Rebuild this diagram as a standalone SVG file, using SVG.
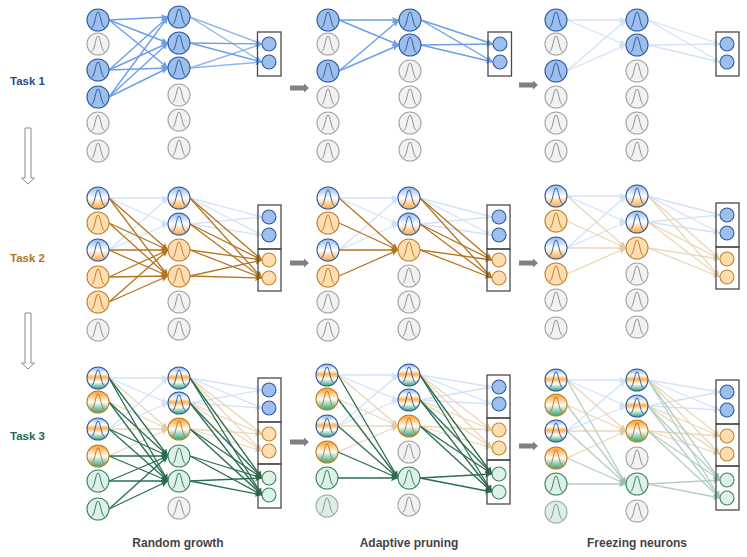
<svg xmlns="http://www.w3.org/2000/svg" xmlns:xlink="http://www.w3.org/1999/xlink" width="747" height="557" viewBox="0 0 747 557">
<style>
text{font-family:"Liberation Sans",Arial,sans-serif;font-weight:bold}
.pk{fill:none;stroke-width:.9}
.n{stroke-width:1.1}
.box{fill:none;stroke:#4a4a4a;stroke-width:1.3}
.conn path{fill:none}
.sb path{stroke:#6C9FE6;stroke-width:1.4;marker-end:url(#mb)}
.fb path{stroke:#D3E2F8;stroke-width:1.3;marker-end:url(#mfb)}
.so path{stroke:#B5741E;stroke-width:1.3;marker-end:url(#mo)}
.fo path{stroke:#EBD6B8;stroke-width:1.3;marker-end:url(#mfo)}
.sg path{stroke:#2A6E50;stroke-width:1.3;marker-end:url(#mg)}
.fg path{stroke:#B4D0C3;stroke-width:1.3;marker-end:url(#mfg)}
.big{fill:#808080;stroke:none}
.down{fill:#fff;stroke:#8a8a8a;stroke-width:1}
.oc{stroke-width:1.1}
</style>
<defs>
<marker id="mb" markerUnits="userSpaceOnUse" markerWidth="8" markerHeight="8" refX="7" refY="4" orient="auto"><path d="M0 .8L7 4L0 7.2L1.5 4z" fill="#6C9FE6"/></marker>
<marker id="mfb" markerUnits="userSpaceOnUse" markerWidth="8" markerHeight="8" refX="7" refY="4" orient="auto"><path d="M0 .8L7 4L0 7.2L1.5 4z" fill="#D3E2F8"/></marker>
<marker id="mo" markerUnits="userSpaceOnUse" markerWidth="8" markerHeight="8" refX="7" refY="4" orient="auto"><path d="M0 .8L7 4L0 7.2L1.5 4z" fill="#B5741E"/></marker>
<marker id="mfo" markerUnits="userSpaceOnUse" markerWidth="8" markerHeight="8" refX="7" refY="4" orient="auto"><path d="M0 .8L7 4L0 7.2L1.5 4z" fill="#E3C9A3"/></marker>
<marker id="mg" markerUnits="userSpaceOnUse" markerWidth="8" markerHeight="8" refX="7" refY="4" orient="auto"><path d="M0 .8L7 4L0 7.2L1.5 4z" fill="#2A6E50"/></marker>
<marker id="mfg" markerUnits="userSpaceOnUse" markerWidth="8" markerHeight="8" refX="7" refY="4" orient="auto"><path d="M0 .8L7 4L0 7.2L1.5 4z" fill="#9CC0AE"/></marker>
<linearGradient id="gbo" x1="0" y1="0" x2="0" y2="1"><stop offset=".05" stop-color="#9DBFEE"/><stop offset=".5" stop-color="#fff"/><stop offset=".95" stop-color="#FFAE4A"/></linearGradient>
<linearGradient id="gbog" x1="0" y1="0" x2="0" y2="1"><stop offset=".05" stop-color="#9DBFEE"/><stop offset=".28" stop-color="#fff"/><stop offset=".47" stop-color="#FFB352"/><stop offset=".68" stop-color="#fff"/><stop offset=".95" stop-color="#4FAE84"/></linearGradient>
<linearGradient id="gog" x1="0" y1="0" x2="0" y2="1"><stop offset=".12" stop-color="#FFAE4A"/><stop offset=".5" stop-color="#fff"/><stop offset=".92" stop-color="#4FAE84"/></linearGradient>
<path id="pk" d="M-6.500 7.500C-3 6.500-2.500 -8 0 -8C2.500 -8 3 6.500 6.500 7.500"/>
<g id="nb"><circle class="n" r="11" fill="#9DBFEE" stroke="#2E5A9E"/><use href="#pk" class="pk" stroke="#24508F"/></g>
<g id="ne"><circle class="n" r="11" fill="#F2F2F2" stroke="#A4A4A4"/><use href="#pk" class="pk" stroke="#858585"/></g>
<g id="no"><circle class="n" r="11" fill="#FFDDB0" stroke="#C08430"/><use href="#pk" class="pk" stroke="#B5741E"/></g>
<g id="ng"><circle class="n" r="11" fill="#DDF2E6" stroke="#3F8363"/><use href="#pk" class="pk" stroke="#2F6B50"/></g>
<g id="np"><circle class="n" r="11" fill="#DCEFE4" stroke="#A0A8A4"/><use href="#pk" class="pk" stroke="#7C8C84"/></g>
<g id="nm"><circle class="n" r="11" fill="url(#gbo)" stroke="#2E5A9E"/><use href="#pk" class="pk" stroke="#24508F"/></g>
<g id="nt"><circle class="n" r="11" fill="url(#gbog)" stroke="#2E5A9E"/><use href="#pk" class="pk" stroke="#24508F"/></g>
<g id="nu"><circle class="n" r="11" fill="url(#gog)" stroke="#C07F1E"/><use href="#pk" class="pk" stroke="#B5741E"/></g>
<circle id="ob" class="oc" r="7" fill="#9DBFEE" stroke="#2E5A9E"/>
<circle id="oo" class="oc" r="7" fill="#FFDDB0" stroke="#C08430"/>
<circle id="og" class="oc" r="7" fill="#DDF2E6" stroke="#3F8363"/>
<path id="ar" class="big" d="M0 -2.500H14V-4.500L19 0L14 4.500V2.500H0z"/>
<path id="dn" class="down" d="M-3 0H3V50H6.500L0 56L-6.500 50H-3z"/>
</defs>
<rect width="747" height="557" fill="#fff"/>

<g id="connectors" class="conn">
<g class="sb">
<path d="M109 20L168 17"/><path d="M109 20L168 43"/><path d="M109 20L168 68"/><path d="M109 70L168 17"/><path d="M109 70L168 43"/><path d="M109 70L168 68"/><path d="M109 97L168 17"/><path d="M109 97L168 43"/><path d="M109 97L168 68"/>
<path d="M190 43L262 44"/><path d="M190 43L262 62"/>
<path d="M339 20L399 20"/><path d="M339 20L399 45"/><path d="M339 71L399 20"/><path d="M339 71L399 45"/>
<path d="M421 20L493 44"/><path d="M421 20L493 62"/><path d="M421 45L493 44"/><path d="M421 45L493 62"/>
</g>
<g class="sb" style="opacity:.75">
<path d="M190 17L262 44"/><path d="M190 17L262 62"/><path d="M190 68L262 44"/><path d="M190 68L262 62"/>
</g>
<g class="fb">
<path d="M567 20L626 20"/><path d="M567 20L626 45"/><path d="M567 71L626 20"/><path d="M567 71L626 45"/>
<path d="M648 20L720 44"/><path d="M648 20L720 62"/><path d="M648 45L720 44"/><path d="M648 45L720 62"/>
<path d="M109 198L168 198"/><path d="M109 198L168 224"/><path d="M109 250L168 198"/><path d="M109 250L168 224"/>
<path d="M190 198L262 217"/><path d="M190 198L262 235"/><path d="M190 224L262 217"/><path d="M190 224L262 235"/>
<path d="M339 198L398 198"/><path d="M339 198L398 224"/><path d="M339 250L398 198"/><path d="M339 250L398 224"/>
<path d="M420 198L492 217"/><path d="M420 198L492 235"/><path d="M420 224L492 217"/><path d="M420 224L492 235"/>
<path d="M567 196L626 196"/><path d="M567 196L626 222"/><path d="M567 248L626 196"/><path d="M567 248L626 222"/>
<path d="M648 196L720 215"/><path d="M648 196L720 233"/><path d="M648 222L720 215"/><path d="M648 222L720 233"/>
<path d="M109 378L168 378"/><path d="M109 378L168 403"/><path d="M109 429L168 378"/><path d="M109 429L168 403"/>
<path d="M190 378L262 390"/><path d="M190 378L262 408"/><path d="M190 403L262 390"/><path d="M190 403L262 408"/>
<path d="M338 375L398 375"/><path d="M338 375L398 400"/><path d="M338 426L398 375"/><path d="M338 426L398 400"/>
<path d="M420 375L492 387"/><path d="M420 375L492 404"/><path d="M420 400L492 387"/><path d="M420 400L492 404"/>
<path d="M567 380L626 380"/><path d="M567 380L626 406"/><path d="M567 431L626 380"/><path d="M567 431L626 406"/>
<path d="M648 380L720 392"/><path d="M648 380L720 410"/><path d="M648 406L720 392"/><path d="M648 406L720 410"/>
</g>
<g class="fo">
<path d="M567 196L626 248"/><path d="M567 221L626 248"/><path d="M567 248L626 248"/><path d="M567 274L626 248"/>
<path d="M648 196L720 259"/><path d="M648 196L720 277"/><path d="M648 222L720 259"/><path d="M648 222L720 277"/><path d="M648 248L720 259"/><path d="M648 248L720 277"/>
<path d="M109 378L168 429"/><path d="M109 402L168 429"/><path d="M109 429L168 429"/><path d="M109 456L168 429"/>
<path d="M190 378L262 434"/><path d="M190 378L262 451"/><path d="M190 403L262 434"/><path d="M190 403L262 451"/><path d="M190 429L262 434"/><path d="M190 429L262 451"/>
<path d="M338 375L398 426"/><path d="M338 399L398 426"/><path d="M338 426L398 426"/><path d="M338 452L398 426"/>
<path d="M420 375L492 430"/><path d="M420 375L492 448"/><path d="M420 400L492 430"/><path d="M420 400L492 448"/><path d="M420 426L492 430"/><path d="M420 426L492 448"/>
<path d="M567 380L626 431"/><path d="M567 405L626 431"/><path d="M567 431L626 431"/><path d="M567 458L626 431"/>
<path d="M648 380L720 436"/><path d="M648 380L720 454"/><path d="M648 406L720 436"/><path d="M648 406L720 454"/><path d="M648 431L720 436"/><path d="M648 431L720 454"/>
</g>
<g class="fg">
<path d="M567 380L626 484"/><path d="M567 405L626 484"/><path d="M567 431L626 484"/><path d="M567 458L626 484"/><path d="M567 484L626 484"/>
<path d="M648 380L720 480"/><path d="M648 380L720 498"/><path d="M648 406L720 480"/><path d="M648 406L720 498"/><path d="M648 431L720 480"/><path d="M648 431L720 498"/><path d="M648 484L720 480"/><path d="M648 484L720 498"/>
</g>
<g class="so">
<path d="M109 198L168 250"/><path d="M109 198L168 276"/><path d="M109 223L168 250"/><path d="M109 223L168 276"/><path d="M109 250L168 250"/><path d="M109 250L168 276"/><path d="M109 277L168 250"/><path d="M109 277L168 276"/><path d="M109 302L168 250"/><path d="M109 302L168 276"/>
<path d="M190 198L262 260"/><path d="M190 198L262 278"/><path d="M190 224L262 260"/><path d="M190 224L262 278"/><path d="M190 250L262 260"/><path d="M190 250L262 278"/><path d="M190 276L262 260"/><path d="M190 276L262 278"/>
<path d="M339 198L398 250"/><path d="M339 223L398 250"/><path d="M339 250L398 250"/><path d="M339 276L398 250"/>
<path d="M420 198L492 260"/><path d="M420 198L492 278"/><path d="M420 224L492 260"/><path d="M420 224L492 278"/><path d="M420 250L492 260"/><path d="M420 250L492 278"/>
</g>
<g class="sg">
<path d="M109 378L168 456"/><path d="M109 378L168 481"/><path d="M109 402L168 456"/><path d="M109 402L168 481"/><path d="M109 429L168 456"/><path d="M109 429L168 481"/><path d="M109 456L168 456"/><path d="M109 456L168 481"/><path d="M109 481L168 456"/><path d="M109 481L168 481"/><path d="M109 509L168 456"/><path d="M109 509L168 481"/>
<path d="M190 378L262 478"/><path d="M190 378L262 495"/><path d="M190 403L262 478"/><path d="M190 403L262 495"/><path d="M190 429L262 478"/><path d="M190 429L262 495"/><path d="M190 456L262 478"/><path d="M190 456L262 495"/><path d="M190 481L262 478"/><path d="M190 481L262 495"/>
<path d="M338 375L398 478"/><path d="M338 399L398 478"/><path d="M338 426L398 478"/><path d="M338 452L398 478"/><path d="M338 478L398 478"/>
<path d="M420 375L492 474"/><path d="M420 375L492 492"/><path d="M420 400L492 474"/><path d="M420 400L492 492"/><path d="M420 426L492 474"/><path d="M420 426L492 492"/><path d="M420 478L492 474"/><path d="M420 478L492 492"/>
</g>
</g>

<g id="t1p1">
<g id="t1p1a0"><use href="#nb" x="98" y="20"/></g><g id="t1p1a1"><use href="#ne" x="98" y="44"/></g><g id="t1p1a2"><use href="#nb" x="98" y="70"/></g><g id="t1p1a3"><use href="#nb" x="98" y="97"/></g><g id="t1p1a4"><use href="#ne" x="98" y="123"/></g><g id="t1p1a5"><use href="#ne" x="98" y="151"/></g>
<g id="t1p1b0"><use href="#nb" x="179" y="17"/></g><g id="t1p1b1"><use href="#nb" x="179" y="43"/></g><g id="t1p1b2"><use href="#nb" x="179" y="68"/></g><g id="t1p1b3"><use href="#ne" x="179" y="95"/></g><g id="t1p1b4"><use href="#ne" x="179" y="120"/></g><g id="t1p1b5"><use href="#ne" x="179" y="148"/></g>
<g id="t1p1out"><rect class="box" x="257.500" y="32" width="23.500" height="44"/><use href="#ob" x="269" y="44"/><use href="#ob" x="269" y="62"/></g>
</g>
<g id="t1p2">
<g id="t1p2a0"><use href="#nb" x="328" y="20"/></g><g id="t1p2a1"><use href="#ne" x="328" y="44"/></g><g id="t1p2a2"><use href="#nb" x="328" y="71"/></g><g id="t1p2a3"><use href="#ne" x="328" y="97"/></g><g id="t1p2a4"><use href="#ne" x="328" y="123"/></g><g id="t1p2a5"><use href="#ne" x="328" y="151"/></g>
<g id="t1p2b0"><use href="#nb" x="410" y="20"/></g><g id="t1p2b1"><use href="#nb" x="410" y="45"/></g><g id="t1p2b2"><use href="#ne" x="410" y="71"/></g><g id="t1p2b3"><use href="#ne" x="410" y="97"/></g><g id="t1p2b4"><use href="#ne" x="410" y="123"/></g><g id="t1p2b5"><use href="#ne" x="410" y="150"/></g>
<g id="t1p2out"><rect class="box" x="488" y="32" width="23.500" height="44"/><use href="#ob" x="500" y="44"/><use href="#ob" x="500" y="62"/></g>
</g>
<g id="t1p3">
<g id="t1p3a0"><use href="#nb" x="556" y="20"/></g><g id="t1p3a1"><use href="#ne" x="556" y="44"/></g><g id="t1p3a2"><use href="#nb" x="556" y="71"/></g><g id="t1p3a3"><use href="#ne" x="556" y="97"/></g><g id="t1p3a4"><use href="#ne" x="556" y="123"/></g><g id="t1p3a5"><use href="#ne" x="556" y="151"/></g>
<g id="t1p3b0"><use href="#nb" x="637" y="20"/></g><g id="t1p3b1"><use href="#nb" x="637" y="45"/></g><g id="t1p3b2"><use href="#ne" x="637" y="71"/></g><g id="t1p3b3"><use href="#ne" x="637" y="97"/></g><g id="t1p3b4"><use href="#ne" x="637" y="123"/></g><g id="t1p3b5"><use href="#ne" x="637" y="150"/></g>
<g id="t1p3out"><rect class="box" x="716" y="32" width="23" height="44"/><use href="#ob" x="727" y="44"/><use href="#ob" x="727" y="62"/></g>
</g>

<g id="t2p1">
<g id="t2p1a0"><use href="#nm" x="98" y="198"/></g><g id="t2p1a1"><use href="#no" x="98" y="223"/></g><g id="t2p1a2"><use href="#nm" x="98" y="250"/></g><g id="t2p1a3"><use href="#no" x="98" y="277"/></g><g id="t2p1a4"><use href="#no" x="98" y="302"/></g><g id="t2p1a5"><use href="#ne" x="98" y="330"/></g>
<g id="t2p1b0"><use href="#nm" x="179" y="198"/></g><g id="t2p1b1"><use href="#nm" x="179" y="224"/></g><g id="t2p1b2"><use href="#no" x="179" y="250"/></g><g id="t2p1b3"><use href="#no" x="179" y="276"/></g><g id="t2p1b4"><use href="#ne" x="179" y="302"/></g><g id="t2p1b5"><use href="#ne" x="179" y="329"/></g>
<g id="t2p1out"><rect class="box" x="258" y="205" width="23" height="44"/><rect class="box" x="258" y="249" width="23" height="42"/><use href="#ob" x="269" y="217"/><use href="#ob" x="269" y="235"/><use href="#oo" x="269" y="260"/><use href="#oo" x="269" y="278"/></g>
</g>
<g id="t2p2">
<g id="t2p2a0"><use href="#nm" x="328" y="198"/></g><g id="t2p2a1"><use href="#no" x="328" y="223"/></g><g id="t2p2a2"><use href="#nm" x="328" y="250"/></g><g id="t2p2a3"><use href="#no" x="328" y="276"/></g><g id="t2p2a4"><use href="#ne" x="328" y="302"/></g><g id="t2p2a5"><use href="#ne" x="328" y="330"/></g>
<g id="t2p2b0"><use href="#nm" x="409" y="198"/></g><g id="t2p2b1"><use href="#nm" x="409" y="224"/></g><g id="t2p2b2"><use href="#no" x="409" y="250"/></g><g id="t2p2b3"><use href="#ne" x="409" y="276"/></g><g id="t2p2b4"><use href="#ne" x="409" y="302"/></g><g id="t2p2b5"><use href="#ne" x="409" y="329"/></g>
<g id="t2p2out"><rect class="box" x="487" y="205" width="23" height="44"/><rect class="box" x="487" y="249" width="23" height="42"/><use href="#ob" x="499" y="217"/><use href="#ob" x="499" y="235"/><use href="#oo" x="499" y="260"/><use href="#oo" x="499" y="278"/></g>
</g>
<g id="t2p3">
<g id="t2p3a0"><use href="#nm" x="556" y="196"/></g><g id="t2p3a1"><use href="#no" x="556" y="221"/></g><g id="t2p3a2"><use href="#nm" x="556" y="248"/></g><g id="t2p3a3"><use href="#no" x="556" y="274"/></g><g id="t2p3a4"><use href="#ne" x="556" y="300"/></g><g id="t2p3a5"><use href="#ne" x="556" y="328"/></g>
<g id="t2p3b0"><use href="#nm" x="637" y="196"/></g><g id="t2p3b1"><use href="#nm" x="637" y="222"/></g><g id="t2p3b2"><use href="#no" x="637" y="248"/></g><g id="t2p3b3"><use href="#ne" x="637" y="274"/></g><g id="t2p3b4"><use href="#ne" x="637" y="300"/></g><g id="t2p3b5"><use href="#ne" x="637" y="327"/></g>
<g id="t2p3out"><rect class="box" x="716" y="203" width="23" height="44"/><rect class="box" x="716" y="247" width="23" height="42"/><use href="#ob" x="727" y="215"/><use href="#ob" x="727" y="233"/><use href="#oo" x="727" y="259"/><use href="#oo" x="727" y="277"/></g>
</g>

<g id="t3p1">
<g id="t3p1a0"><use href="#nt" x="98" y="378"/></g><g id="t3p1a1"><use href="#nu" x="98" y="402"/></g><g id="t3p1a2"><use href="#nt" x="98" y="429"/></g><g id="t3p1a3"><use href="#nu" x="98" y="456"/></g><g id="t3p1a4"><use href="#ng" x="98" y="481"/></g><g id="t3p1a5"><use href="#ng" x="98" y="509"/></g>
<g id="t3p1b0"><use href="#nt" x="179" y="378"/></g><g id="t3p1b1"><use href="#nt" x="179" y="403"/></g><g id="t3p1b2"><use href="#nu" x="179" y="429"/></g><g id="t3p1b3"><use href="#ng" x="179" y="456"/></g><g id="t3p1b4"><use href="#ng" x="179" y="481"/></g><g id="t3p1b5"><use href="#ne" x="179" y="508"/></g>
<g id="t3p1out"><rect class="box" x="258" y="378" width="23" height="44"/><rect class="box" x="258" y="422" width="23" height="42"/><rect class="box" x="258" y="464" width="23" height="44"/><use href="#ob" x="269" y="390"/><use href="#ob" x="269" y="408"/><use href="#oo" x="269" y="434"/><use href="#oo" x="269" y="451"/><use href="#og" x="269" y="478"/><use href="#og" x="269" y="495"/></g>
</g>
<g id="t3p2">
<g id="t3p2a0"><use href="#nt" x="327" y="375"/></g><g id="t3p2a1"><use href="#nu" x="327" y="399"/></g><g id="t3p2a2"><use href="#nt" x="327" y="426"/></g><g id="t3p2a3"><use href="#nu" x="327" y="452"/></g><g id="t3p2a4"><use href="#ng" x="327" y="478"/></g><g id="t3p2a5"><use href="#np" x="327" y="506"/></g>
<g id="t3p2b0"><use href="#nt" x="409" y="375"/></g><g id="t3p2b1"><use href="#nt" x="409" y="400"/></g><g id="t3p2b2"><use href="#nu" x="409" y="426"/></g><g id="t3p2b3"><use href="#ne" x="409" y="452"/></g><g id="t3p2b4"><use href="#ng" x="409" y="478"/></g><g id="t3p2b5"><use href="#ne" x="409" y="505"/></g>
<g id="t3p2out"><rect class="box" x="487" y="375" width="23" height="43"/><rect class="box" x="487" y="418" width="23" height="42"/><rect class="box" x="487" y="460" width="23" height="44"/><use href="#ob" x="499" y="387"/><use href="#ob" x="499" y="404"/><use href="#oo" x="499" y="430"/><use href="#oo" x="499" y="448"/><use href="#og" x="499" y="474"/><use href="#og" x="499" y="492"/></g>
</g>
<g id="t3p3">
<g id="t3p3a0"><use href="#nt" x="556" y="380"/></g><g id="t3p3a1"><use href="#nu" x="556" y="405"/></g><g id="t3p3a2"><use href="#nt" x="556" y="431"/></g><g id="t3p3a3"><use href="#nu" x="556" y="458"/></g><g id="t3p3a4"><use href="#ng" x="556" y="484"/></g><g id="t3p3a5"><use href="#np" x="556" y="512"/></g>
<g id="t3p3b0"><use href="#nt" x="637" y="380"/></g><g id="t3p3b1"><use href="#nt" x="637" y="406"/></g><g id="t3p3b2"><use href="#nu" x="637" y="431"/></g><g id="t3p3b3"><use href="#ne" x="637" y="458"/></g><g id="t3p3b4"><use href="#ng" x="637" y="484"/></g><g id="t3p3b5"><use href="#ne" x="637" y="511"/></g>
<g id="t3p3out"><rect class="box" x="716" y="380" width="23" height="44"/><rect class="box" x="716" y="424" width="23" height="42"/><rect class="box" x="716" y="466" width="23" height="44"/><use href="#ob" x="727" y="392"/><use href="#ob" x="727" y="410"/><use href="#oo" x="727" y="436"/><use href="#oo" x="727" y="454"/><use href="#og" x="727" y="480"/><use href="#og" x="727" y="498"/></g>
</g>

<g id="arrows">
<use href="#ar" x="290" y="88"/><use href="#ar" x="519" y="85"/>
<use href="#ar" x="290" y="263"/><use href="#ar" x="519" y="263"/>
<use href="#ar" x="290" y="442"/><use href="#ar" x="519" y="446"/>
<use href="#dn" x="28" y="128"/><use href="#dn" x="28" y="313"/>
</g>
<g id="labels">
<text x="10" y="85" font-size="11.500" fill="#1F4E8C">Task 1</text>
<text x="10" y="262" font-size="11.500" fill="#B5741E">Task 2</text>
<text x="10" y="440" font-size="11.500" fill="#1F6B4A">Task 3</text>
<text x="178" y="547" font-size="12" fill="#444" text-anchor="middle">Random growth</text>
<text x="409" y="547" font-size="12" fill="#444" text-anchor="middle">Adaptive pruning</text>
<text x="637" y="547" font-size="12" fill="#444" text-anchor="middle">Freezing neurons</text>
</g>
</svg>
